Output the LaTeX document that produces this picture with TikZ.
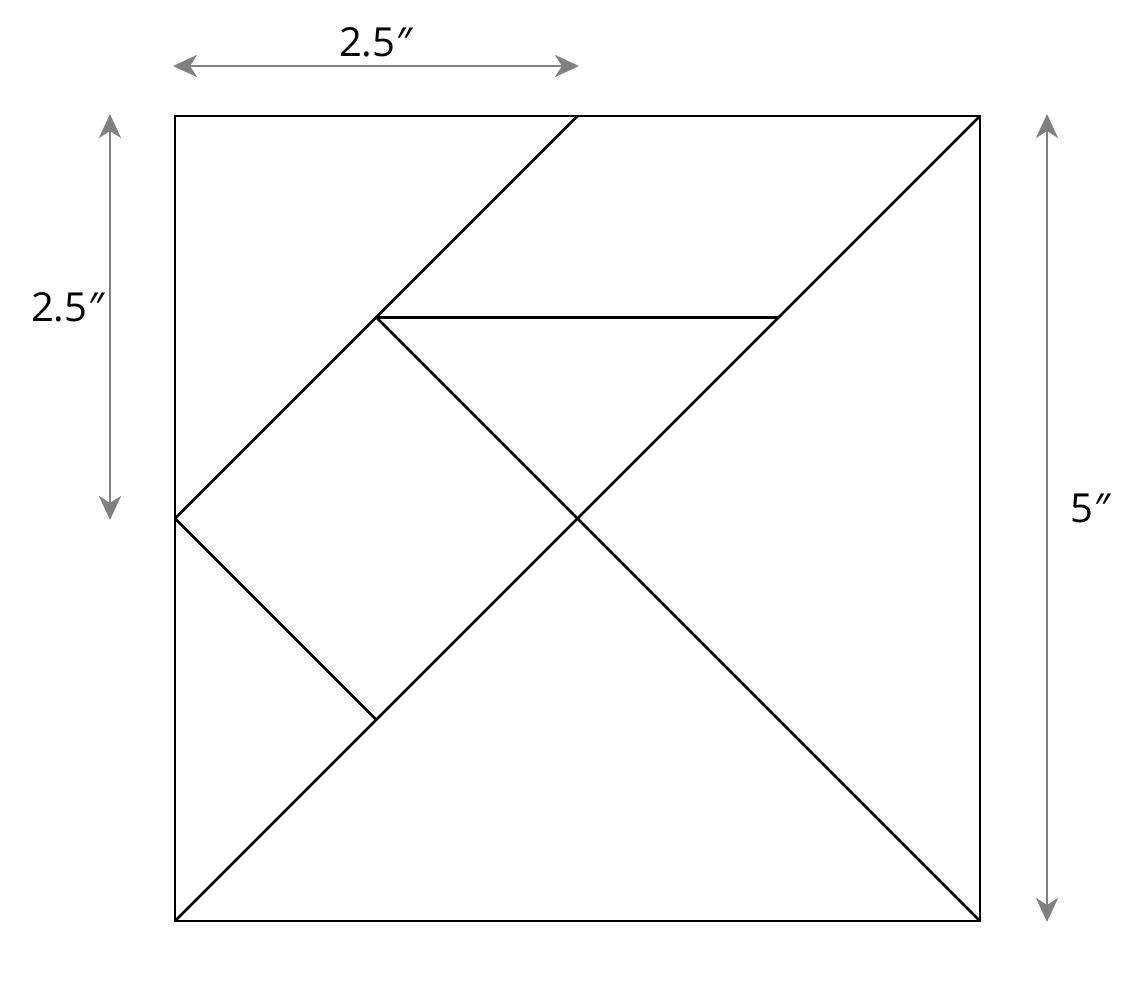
\documentclass[tikz,border=0pt]{standalone}
\usepackage{fontspec}
\setmainfont{Open Sans}
\usetikzlibrary{arrows.meta}
\definecolor{dimgray}{HTML}{808080}
\newcommand{\inchmark}{{\itshape ″}}
\tikzset{
  piece/.style={draw=black, line width=2.6pt, line join=miter},
  dimtip/.tip={Stealth[length=24pt,width=22pt,inset=7pt]},
  dimline/.style={draw=dimgray, line width=2.8pt, dimtip-dimtip},
  dimlabel/.style={font=\fontsize{40}{44}\selectfont, text=black, inner sep=0pt}
}
\begin{document}
\begin{tikzpicture}[x=1pt,y=-1pt]
\useasboundingbox (0,0) rectangle (1138,986);
% square corners
\coordinate (tl) at (175,116);
\coordinate (tr) at (980,116);
\coordinate (br) at (980,921);
\coordinate (bl) at (175,921);
\coordinate (tm) at (577.5,116);
\coordinate (lm) at (175,518.5);
\coordinate (c) at (577.5,518.5);
\coordinate (q1) at (376.25,317.25);
\coordinate (q2) at (778.75,317.25);
\coordinate (q3) at (376.25,719.75);
% tangram
\draw[piece] (tl) -- (tr) -- (br) -- (bl) -- cycle;
\draw[piece] (bl) -- (tr);
\draw[piece] (c) -- (br);
\draw[piece] (c) -- (q1);
\draw[piece] (q1) -- (q2);
\draw[piece] (tm) -- (lm);
\draw[piece] (lm) -- (q3);
% dimensions
\coordinate (ha) at (173,66);
\coordinate (hb) at (579,66);
\draw[dimline] (ha) -- (hb);
\node[dimlabel] (hl) at (375,42) {2.5\inchmark};
\coordinate (va) at (110,114);
\coordinate (vb) at (110,520);
\draw[dimline] (va) -- (vb);
\node[dimlabel] (vl) at (67,307) {2.5\inchmark};
\coordinate (ra) at (1047,114);
\coordinate (rb) at (1047,922);
\draw[dimline] (ra) -- (rb);
\node[dimlabel] (rl) at (1090,508) {5\inchmark};
\end{tikzpicture}
\end{document}
